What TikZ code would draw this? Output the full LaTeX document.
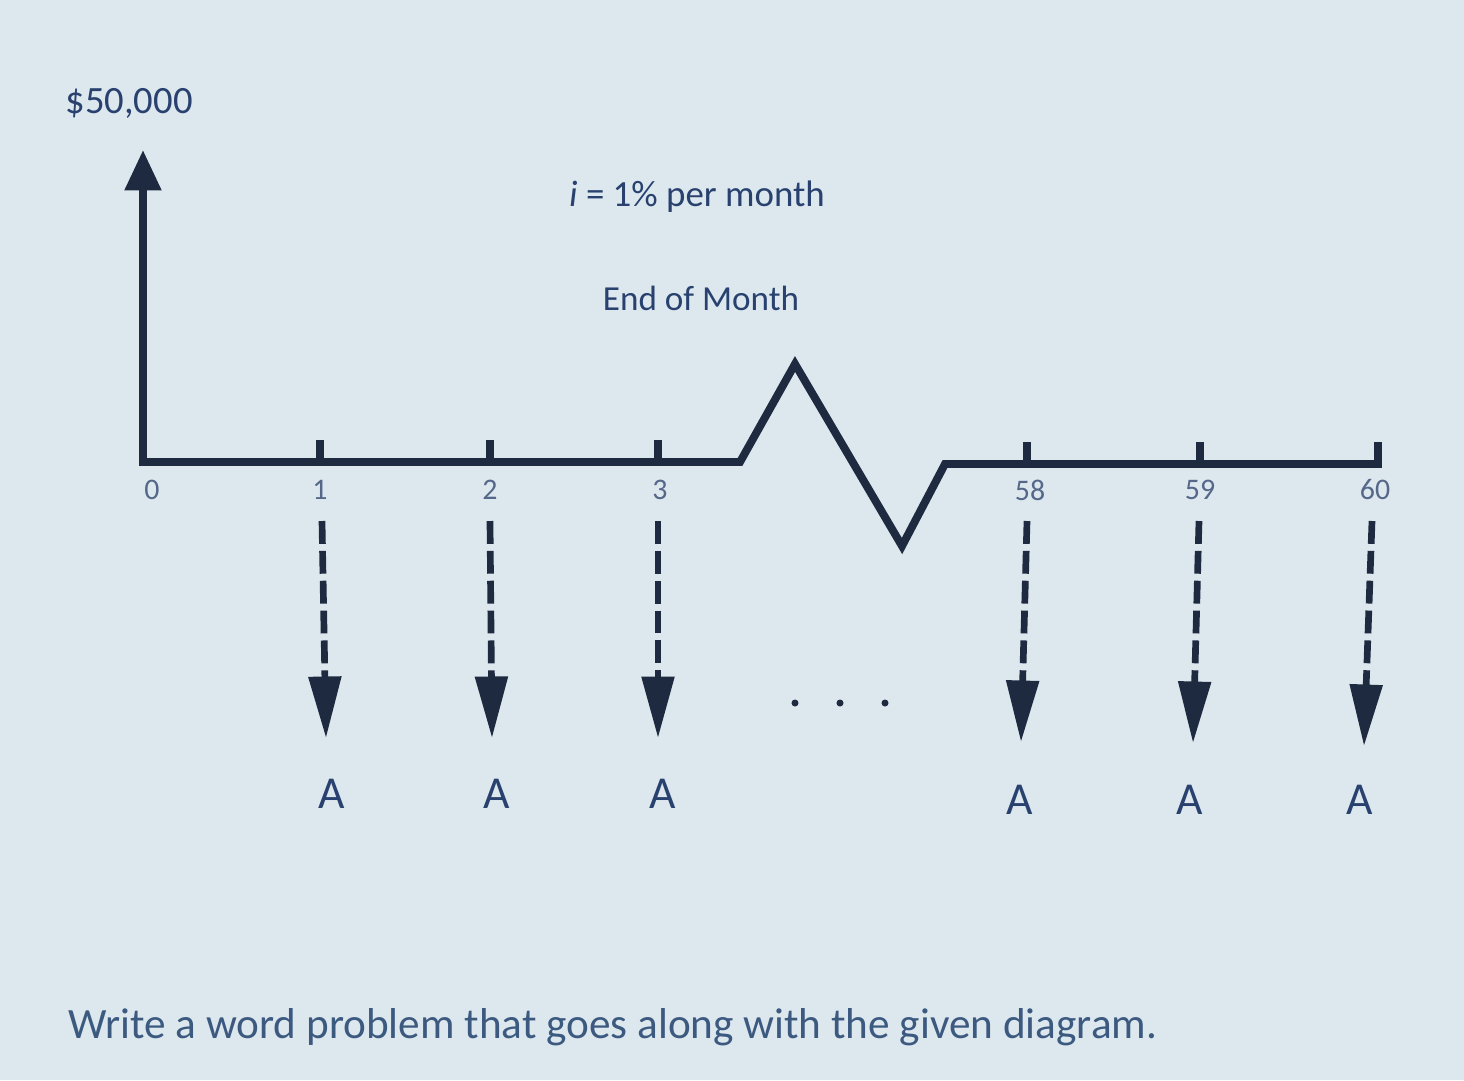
\documentclass[tikz,border=0pt]{standalone}
\usepackage{fontspec}
\setmainfont{Carlito}
\usetikzlibrary{arrows.meta}
\definecolor{screen}{HTML}{DDE7EE}
\definecolor{ink}{HTML}{1D2A40}
\definecolor{txtblue}{HTML}{28416E}
\definecolor{tickgray}{HTML}{55688A}
\definecolor{bottomtxt}{HTML}{3C5A80}

\begin{document}
\begin{tikzpicture}[x=0.02cm, y=-0.02cm]
\tikzset{axis/.style={line width=4.5pt, color=ink, line join=miter},
    payarrow/.style={line width=3.8pt, color=ink, dash pattern=on 13pt off 4pt, -{Triangle[length=35pt,width=18pt]}},
    ticklabel/.style={text=tickgray, font=\fontsize{17}{17}\selectfont},
    paylabel/.style={text=txtblue, font=\fontsize{26}{26}\selectfont}}
    \fill[screen] (0,0) rectangle (1464,1080);
    \useasboundingbox (0,0) rectangle (1464,1080);

    \coordinate (Top) at (143,150);
    \coordinate (T0) at (143,462);
    \coordinate (Z0) at (740,462);
    \coordinate (Zup) at (795,364);
    \coordinate (Zdn) at (902,546);
    \coordinate (Z1) at (945,464);
    \coordinate (T60) at (1378,464);
    \coordinate (T60up) at (1378,442);

    \draw[axis, -{Triangle[length=23pt,width=20pt]}] (T60up) -- (T60) -- (Z1) -- (Zdn) -- (Zup) -- (Z0) -- (T0) -- (Top);

    \foreach \x/\y in {320/462, 490/462, 658/462, 1027/464, 1200/464}
        \draw[axis] (\x,\y) -- (\x,\y-22);

    \node[text=txtblue, font=\fontsize{22}{22}\selectfont] (amt) at (129,103) {\$50,000};
    \node[text=txtblue, font=\fontsize{21}{21}\selectfont] (rate) at (697,197) {\textit{i} = 1\% per month};
    \node[text=txtblue, font=\fontsize{20}{20}\selectfont] (eom) at (701,298) {End of Month};
% % % % % % % % % % % % % % % % % % %
    \foreach \n/\x in {0/152, 1/320, 2/490, 3/660, 58/1030, 59/1200, 60/1375}
        \node[ticklabel] (n\n) at (\x,490) {\n};

    \foreach \n/\xs/\xe/\xa/\ye/\ya in {1/322/326/332/738/794, 2/490/492/497/738/794, 3/658/658/663/738/794, 58/1027/1021/1020/742/800, 59/1199/1193/1190/743/800, 60/1372/1364/1360/746/800}
    {
        \coordinate (s\n) at (\xs,521);
        \coordinate (e\n) at (\xe,\ye);
        \draw[payarrow] (s\n) -- (e\n);
        \node[paylabel] (A\n) at (\xa,\ya) {A};
    }

    \foreach \x in {795,840,885}
        \fill[ink] (\x,703) circle[radius=2pt];

    \node[anchor=base west, text=bottomtxt, font=\fontsize{24.6}{24.6}\selectfont] (task) at (62,1038) {Write a word problem that goes along with the given diagram.};
\end{tikzpicture}
\end{document}
